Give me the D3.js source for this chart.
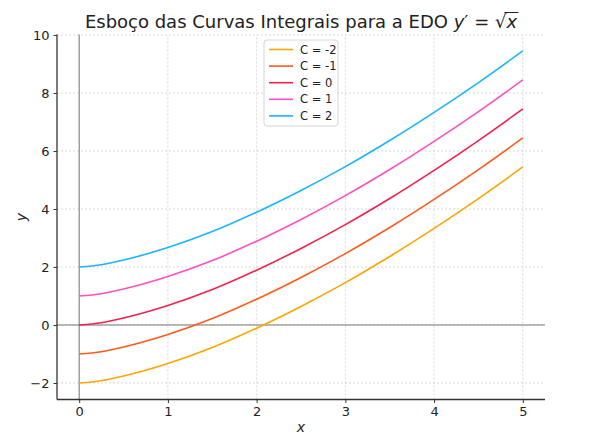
<!DOCTYPE html>
<html>
<head>
<meta charset="utf-8">
<script src="https://cdn.jsdelivr.net/npm/d3@7"></script>
<style>
  body { margin: 0; background: #fff; }
  svg { display: block; font-family: "DejaVu Sans", sans-serif; }
</style>
</head>
<body>
<div id="chart"></div>
<script>
// values
const xValues = [0, 0.25, 0.5, 1, 1.5, 2, 2.5, 3, 3.5, 4, 4.5, 5];
const yCm2 = [-2, -1.92, -1.76, -1.33, -0.78, -0.11, 0.64, 1.46, 2.36, 3.33, 4.36, 5.45];
const yCm1 = [-1, -0.92, -0.76, -0.33, 0.22, 0.89, 1.64, 2.46, 3.36, 4.33, 5.36, 6.45];
const yC0 = [0, 0.08, 0.24, 0.67, 1.22, 1.89, 2.64, 3.46, 4.36, 5.33, 6.36, 7.45];
const yC1 = [1, 1.08, 1.24, 1.67, 2.22, 2.89, 3.64, 4.46, 5.36, 6.33, 7.36, 8.45];
const yC2 = [2, 2.08, 2.24, 2.67, 3.22, 3.89, 4.64, 5.46, 6.36, 7.33, 8.36, 9.45];
const seriesNames = [`C = -2`, `C = -1`, `C = 0`, `C = 1`, `C = 2`];
const seriesValues = [yCm2, yCm1, yC0, yC1, yC2];
const seriesColors = [`#ffa500`, `#ff5a1a`, `#f5204a`, `#ff4fc0`, `#1ab4ff`];
const xTicks = [0, 1, 2, 3, 4, 5];
const yTicks = [-2, 0, 2, 4, 6, 8, 10];

const WIDTH = 589, HEIGHT = 438;
const M = {left: 57, right: 44, top: 34.5, bottom: 38.5};

let svg = d3.select(`#chart`).append(`svg`)
  .attr(`width`, WIDTH)
  .attr(`height`, HEIGHT);

let x = d3.scaleLinear().domain([-0.25, 5.25]).range([M.left, WIDTH - M.right]);
let y = d3.scaleLinear().domain([-2.569, 10.017]).range([HEIGHT - M.bottom, M.top]);

// grid
let grid = svg.append(`g`).attr(`class`, `grid`);
grid.selectAll(`.gx`).data(xTicks).join(`line`)
  .attr(`x1`, d => x(d)).attr(`x2`, d => x(d))
  .attr(`y1`, y.range()[0]).attr(`y2`, y.range()[1])
  .attr(`stroke`, `#cfcfcf`).attr(`stroke-width`, 0.8).attr(`stroke-dasharray`, `2,2`);
grid.selectAll(`.gy`).data(yTicks).join(`line`)
  .attr(`y1`, d => y(d)).attr(`y2`, d => y(d))
  .attr(`x1`, x.range()[0]).attr(`x2`, x.range()[1])
  .attr(`stroke`, `#cfcfcf`).attr(`stroke-width`, 0.8).attr(`stroke-dasharray`, `2,2`);

// zero lines
svg.append(`line`)
  .attr(`x1`, x.range()[0]).attr(`x2`, x.range()[1])
  .attr(`y1`, y(0)).attr(`y2`, y(0))
  .attr(`stroke`, `#777`).attr(`stroke-width`, 1);
svg.append(`line`)
  .attr(`x1`, x(0)).attr(`x2`, x(0))
  .attr(`y1`, y.range()[0]).attr(`y2`, y.range()[1])
  .attr(`stroke`, `#777`).attr(`stroke-width`, 1);

// curves
let line = d3.line()
  .x(d => x(d[0]))
  .y(d => y(d[1]))
  .curve(d3.curveMonotoneX);

seriesValues.forEach((vals, i) => {
  svg.append(`path`)
    .datum(xValues.map((xv, j) => [xv, vals[j]]))
    .attr(`fill`, `none`)
    .attr(`stroke`, seriesColors[i])
    .attr(`stroke-width`, 1.6)
    .attr(`d`, line);
});

// axes
let xAxis = svg.append(`g`)
  .attr(`transform`, `translate(0,${y.range()[0]})`)
  .call(d3.axisBottom(x).tickValues(xTicks).tickSize(3.5).tickPadding(4).tickFormat(d3.format(`d`)));
let yAxis = svg.append(`g`)
  .attr(`transform`, `translate(${x.range()[0]},0)`)
  .call(d3.axisLeft(y).tickValues(yTicks).tickSize(3.5).tickPadding(4)
    .tickFormat(d => d < 0 ? `\u2212${-d}` : `${d}`));
[xAxis, yAxis].forEach(ax => {
  ax.select(`.domain`).attr(`stroke`, `#333`).attr(`stroke-width`, 1.3);
  ax.selectAll(`.tick line`).attr(`stroke`, `#333`).attr(`stroke-width`, 1);
  ax.selectAll(`.tick text`).attr(`fill`, `#222`)
    .style(`font-size`, `13px`).style(`font-family`, `"DejaVu Sans", sans-serif`);
});
// only the plain spine line, no end caps from d3's domain path
xAxis.select(`.domain`).attr(`d`, `M${x.range()[0]},0H${x.range()[1]}`);
yAxis.select(`.domain`).attr(`d`, `M0,${y.range()[0]}V${y.range()[1]}`);

// axis labels
svg.append(`text`)
  .attr(`x`, (x.range()[0] + x.range()[1]) / 2).attr(`y`, 432)
  .attr(`text-anchor`, `middle`).attr(`font-style`, `italic`)
  .attr(`font-size`, 14).attr(`fill`, `#222`).text(`x`);
svg.append(`text`)
  .attr(`transform`, `translate(26,${(y.range()[0] + y.range()[1]) / 2}) rotate(-90)`)
  .attr(`text-anchor`, `middle`).attr(`font-style`, `italic`)
  .attr(`font-size`, 14).attr(`fill`, `#222`).text(`y`);

// title
let title = svg.append(`text`)
  .attr(`x`, (x.range()[0] + x.range()[1]) / 2).attr(`y`, 28)
  .attr(`text-anchor`, `middle`).attr(`font-size`, 18).attr(`fill`, `#222`);
title.append(`tspan`).text(`Esboço das Curvas Integrais para a EDO `);
title.append(`tspan`).attr(`font-style`, `italic`).text(`y`);
title.append(`tspan`).text(`\u2032 = \u221A`);
let xSpan = title.append(`tspan`).attr(`font-style`, `italic`).text(`x`);
let xb = xSpan.node().getBBox();
svg.append(`line`)
  .attr(`x1`, xb.x - 1).attr(`x2`, xb.x + xb.width + 1)
  .attr(`y1`, 12.5).attr(`y2`, 12.5)
  .attr(`stroke`, `#222`).attr(`stroke-width`, 1);

// legend
let legend = svg.append(`g`).attr(`transform`, `translate(264,40)`);
legend.append(`rect`)
  .attr(`width`, 74).attr(`height`, 86).attr(`rx`, 3)
  .attr(`fill`, `#fff`).attr(`fill-opacity`, 0.85)
  .attr(`stroke`, `#d5d5d5`).attr(`stroke-width`, 1);
seriesNames.forEach((name, i) => {
  let row = legend.append(`g`).attr(`transform`, `translate(0,${9.5 + i * 16.6})`);
  row.append(`line`)
    .attr(`x1`, 5).attr(`x2`, 29)
    .attr(`stroke`, seriesColors[i]).attr(`stroke-width`, 1.6);
  row.append(`text`)
    .attr(`x`, 36).attr(`dy`, `0.35em`)
    .attr(`font-size`, 11.5).attr(`fill`, `#222`).text(name);
});
</script>
</body>
</html>
